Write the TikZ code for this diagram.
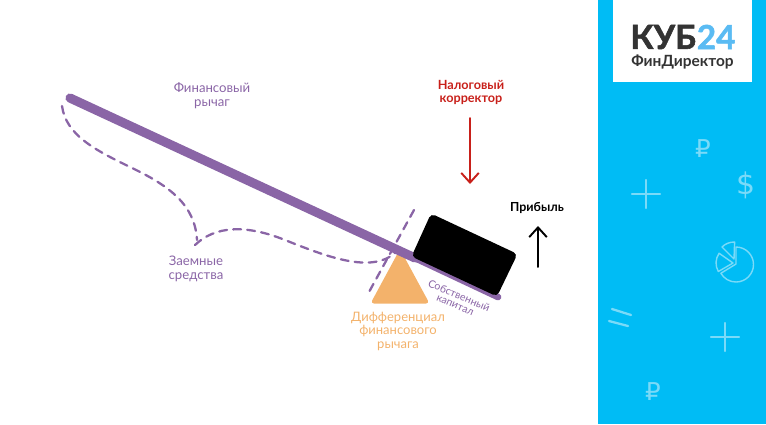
\documentclass[tikz,border=0pt]{standalone}
\usepackage{fontspec}
\setmainfont{Lato}
\newfontfamily\symfont{DejaVu Sans}
\newfontfamily\logofont[BoldFeatures={FakeBold=1.6}]{Lato}
\usetikzlibrary{arrows.meta}
\definecolor{leverviolet}{HTML}{8A65A6}
\definecolor{panelblue}{HTML}{00BCF5}
\definecolor{iconblue}{HTML}{7ADAF8}
\definecolor{fulcrumorange}{HTML}{F3B26B}
\definecolor{taxred}{HTML}{C8201A}
\definecolor{logodark}{HTML}{333333}
\definecolor{logoblue}{HTML}{5ABBF3}
\tikzset{
	violettext/.style={text=leverviolet, font=\fontsize{7.5}{7.9}\selectfont, align=center, inner sep=0pt},
	smalltext/.style={text=leverviolet, font=\fontsize{6}{7}\selectfont, inner sep=0pt, rotate=-23},
	dashline/.style={draw=leverviolet, line width=1.3pt, dash pattern=on 4.5pt off 3.5pt},
	iconline/.style={draw=iconblue, line width=1.3pt},
	pieline/.style={draw=iconblue, line width=.8pt},
	iconsym/.style={text=iconblue, inner sep=0pt},
	forcearrow/.style={-{Straight Barb[length=5.5pt,width=10pt]}, line width=1.1pt},
}
\begin{document}
\begin{tikzpicture}[x=.02cm, y=-.02cm, line join=round, line cap=round]
	\useasboundingbox (0,0) rectangle (766,424);
	% right panel
	\fill[panelblue] (598,0) rectangle (766,424);
	\fill[white] (613,0) rectangle (752,82);
	\node[inner sep=0pt, anchor=west, text=logodark, font=\logofont\fontsize{19}{20}\bfseries\selectfont] (kub) at (630,37) {КУБ};
	\node[inner sep=0pt, anchor=west, text=logoblue, font=\logofont\fontsize{19}{20}\bfseries\selectfont] (num) at (kub.east) {24};
	\node[inner sep=0pt, anchor=west, text=logodark, font=\fontsize{8.8}{9}\bfseries\selectfont] (fin) at (631,61.5) {ФинДиректор};
	% icons
	\node[iconsym, font=\symfont\fontsize{14}{15}\selectfont] (rub1) at (703,149) {₽};
	\node[iconsym, font=\symfont\fontsize{17}{18}\selectfont] (usd) at (746,185) {\$};
	\node[iconsym, font=\symfont\fontsize{14}{15}\selectfont] (rub2) at (653,392) {₽};
	\draw[iconline] (632,194)--(660,194) (646,180)--(646,208);
	\draw[iconline] (711,337)--(739,337) (725,323)--(725,351);
	\draw[iconline] (612,309)--(631,315) (609,321)--(628,326);
	\draw[pieline] (736,264) -- (736,247) arc (-90:150:17.5) -- cycle;
	\draw[pieline] (733,263) -- (718.3,271.5) arc (150:215:17) -- cycle;
	\draw[pieline] (734,259) -- (722,247) arc (225:272:17) -- cycle;
	% lever
	\coordinate (leverL) at (70,98);
	\coordinate (leverM) at (415,258);
	\coordinate (leverR) at (498,297);
	\fill[fulcrumorange, rounded corners=2pt] (400,249)--(429.5,303.5)--(370.5,303.5)--cycle;
	\draw[leverviolet, line width=5.2pt] (leverL)--(leverM);
	\draw[leverviolet, line width=3.8pt] (leverM)--(leverR);
	\fill[black, rounded corners=2.5pt] (431,213.5)--(517.5,254)--(497,296.5)--(411.5,256.5)--cycle;
	% dashed lines
	\draw[dashline] (414,210)--(369,292);
	\draw[dashline] (62,106)..controls (66,135) and (95,150)..(130,167)
	..controls (170,186) and (195,205)..(197,240);
	\draw[dashline] (195,245)..controls (215,226) and (245,224)..(285,240)
	..controls (330,258) and (375,275)..(398,250);
	% labels
	\node[violettext] (lever) at (212,96) {Финансовый\\рычаг};
	\node[violettext] (loan) at (196,269) {Заемные\\средства};
	\node[smalltext] (equity) at (459,295.5) {Собственный};
	\node[smalltext] (capital) at (455,305.5) {капитал};
	\node[inner sep=0pt, align=center, text=fulcrumorange, font=\fontsize{7.4}{7.7}\selectfont] (diff) at (398,331) {Дифференциал\\финансового\\рычага};
	\node[inner sep=0pt, align=center, text=taxred, font=\fontsize{7.2}{7.6}\bfseries\selectfont] (tax) at (471,92.5) {Налоговый\\корректор};
	\node[inner sep=0pt, font=\fontsize{7.1}{8}\bfseries\selectfont] (profit) at (537,208) {Прибыль};
	% arrows
	\coordinate (taxA) at (470,118);
	\coordinate (taxB) at (470,184);
	\coordinate (profA) at (538,267);
	\coordinate (profB) at (538,226);
	\draw[forcearrow, taxred] (taxA)--(taxB);
	\draw[forcearrow, black] (profA)--(profB);
\end{tikzpicture}
\end{document}
